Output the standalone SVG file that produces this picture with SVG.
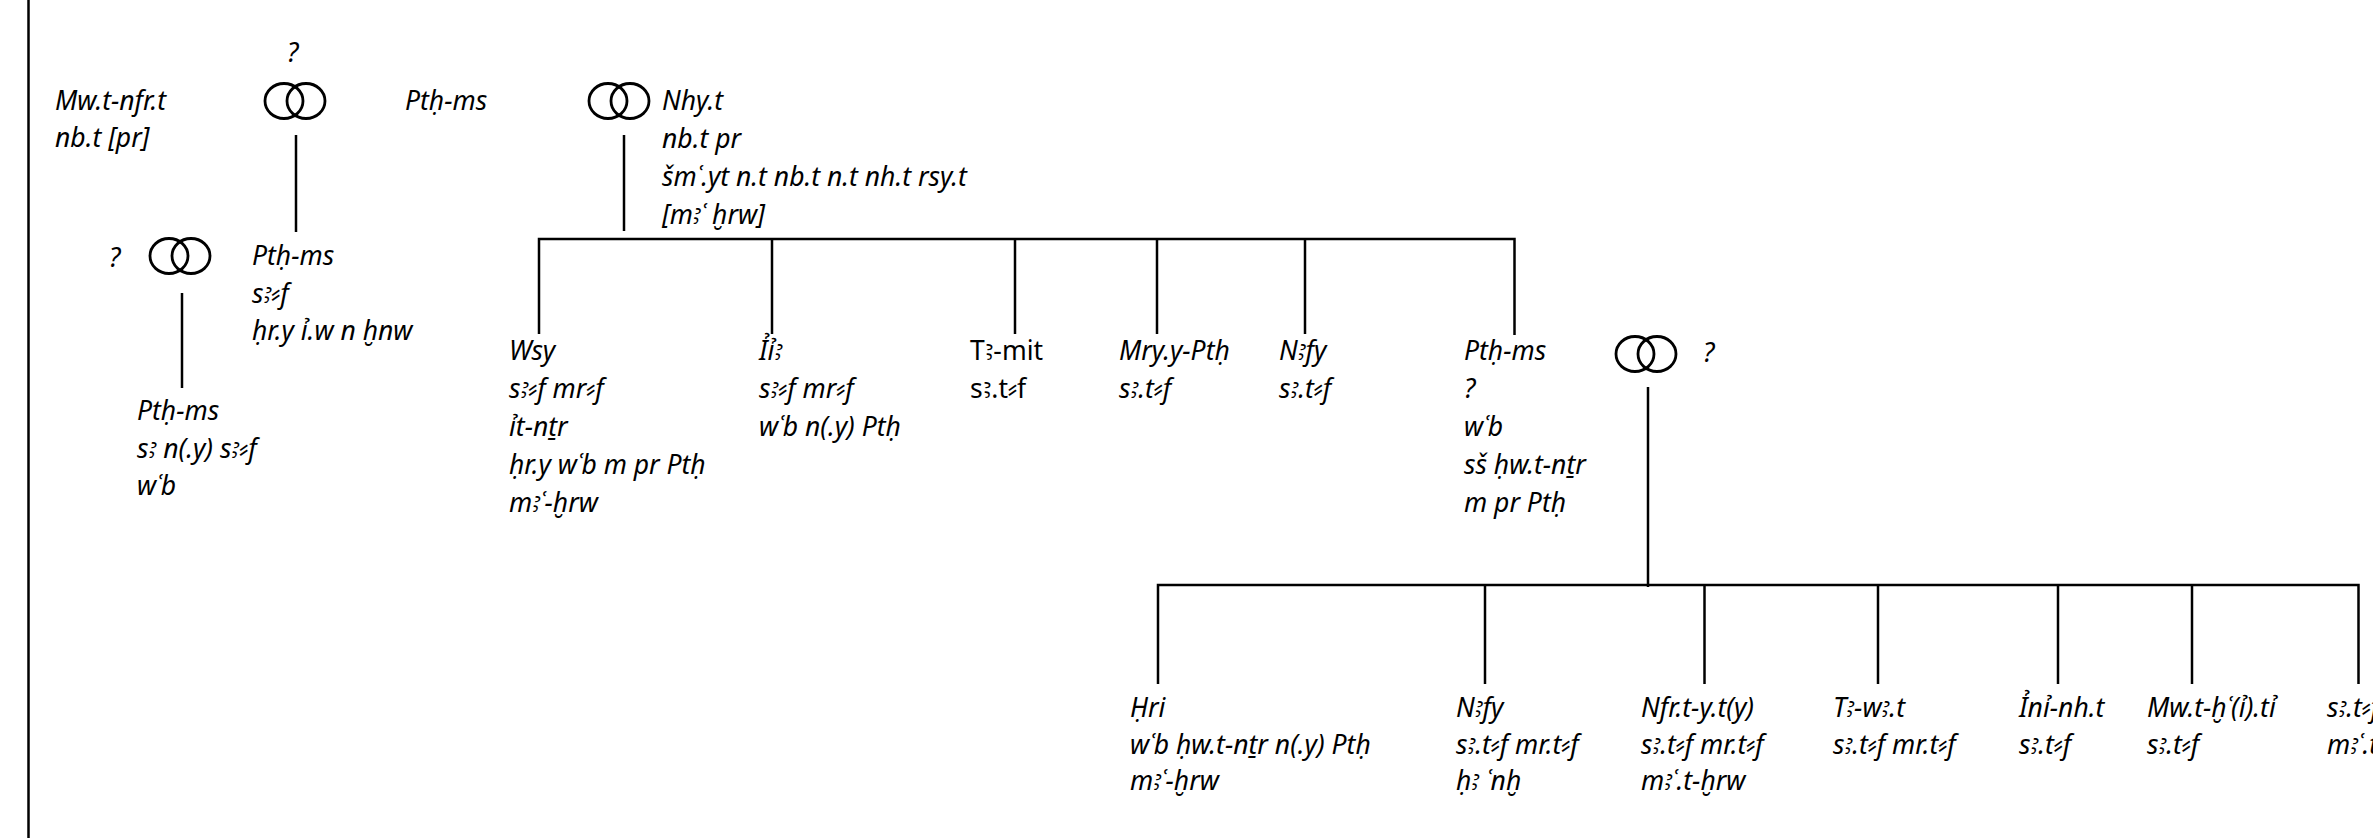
<svg xmlns="http://www.w3.org/2000/svg" xmlns:xlink="http://www.w3.org/1999/xlink" width="2373" height="838" viewBox="0 0 2373 838">
<style>
.t{font-family:"Noto Sans","DejaVu Sans",sans-serif;font-style:italic;font-size:26.5px;fill:#000}
.r{font-style:normal}
.ln{stroke:#000;stroke-width:2.5;fill:none}
.rg{stroke:#000;stroke-width:2.8;fill:none}
</style>
<defs>
<g id="ring"><ellipse class="rg" cx="-11" cy="0" rx="19" ry="17.5"/><ellipse class="rg" cx="11" cy="0" rx="19" ry="17.5"/></g>
</defs>
<rect x="0" y="0" width="2373" height="838" fill="#fff"/>
<g id="connectors">
<line class="ln" x1="28.5" y1="0" x2="28.5" y2="838" stroke-width="2"/>
<line class="ln" x1="296" y1="135" x2="296" y2="232"/>
<line class="ln" x1="182" y1="293" x2="182" y2="388"/>
<line class="ln" x1="624" y1="135" x2="624" y2="231"/>
<polyline class="ln" points="539,334 539,239 1514.5,239 1514.5,335"/>
<line class="ln" x1="772" y1="239" x2="772" y2="334"/>
<line class="ln" x1="1015" y1="239" x2="1015" y2="334"/>
<line class="ln" x1="1157" y1="239" x2="1157" y2="334"/>
<line class="ln" x1="1305" y1="239" x2="1305" y2="334" stroke-width="2"/>
<line class="ln" x1="1648" y1="387" x2="1648" y2="587"/>
<polyline class="ln" points="1158,684 1158,585 2358.5,585 2358.5,684"/>
<line class="ln" x1="1485" y1="585" x2="1485" y2="684"/>
<line class="ln" x1="1704.5" y1="585" x2="1704.5" y2="684"/>
<line class="ln" x1="1878" y1="585" x2="1878" y2="684"/>
<line class="ln" x1="2058" y1="585" x2="2058" y2="684"/>
<line class="ln" x1="2192" y1="585" x2="2192" y2="684"/>
</g>
<g id="n-mwtnfrt"><text class="t" x="55" y="110">Mw.t-nfr.t<tspan x="55" dy="37">nb.t [pr]</tspan></text></g>
<g id="m-ring1"><text class="t" x="287" y="62">?</text><use xlink:href="#ring" x="295" y="101"/></g>
<g id="n-ptahmes1"><text class="t" x="405" y="110">Ptḥ-ms</text></g>
<g id="m-ring3"><use xlink:href="#ring" x="619" y="101"/></g>
<g id="n-nhyt"><text class="t" x="662" y="110">Nhy.t<tspan x="662" dy="38">nb.t pr</tspan><tspan x="662" dy="38">šmʿ.yt n.t nb.t n.t nh.t rsy.t</tspan><tspan x="662" dy="38">[mꜣʿ ḫrw]</tspan></text></g>
<g id="m-ring2"><text class="t" x="109" y="267">?</text><use xlink:href="#ring" x="180" y="256"/></g>
<g id="n-ptahmes2"><text class="t" x="252" y="265">Ptḥ-ms<tspan x="252" dy="37.5">sꜣ⸗f</tspan><tspan x="252" dy="37.5">ḥr.y ỉ.w n ḫnw</tspan></text></g>
<g id="n-ptahmes3"><text class="t" x="137" y="420">Ptḥ-ms<tspan x="137" dy="37.5">sꜣ n(.y) sꜣ⸗f</tspan><tspan x="137" dy="37.5">wʿb</tspan></text></g>
<g id="n-wsy"><text class="t" x="509" y="360">Wsy<tspan x="509" dy="38">sꜣ⸗f mr⸗f</tspan><tspan x="509" dy="38">ỉt-nṯr</tspan><tspan x="509" dy="38">ḥr.y wʿb m pr Ptḥ</tspan><tspan x="509" dy="38">mꜣʿ-ḫrw</tspan></text></g>
<g id="n-iia"><text class="t" x="759" y="360">Ỉỉꜣ<tspan x="759" dy="38">sꜣ⸗f mr⸗f</tspan><tspan x="759" dy="38">wʿb n(.y) Ptḥ</tspan></text></g>
<g id="n-tamit"><text class="t r" x="970" y="360">Tꜣ-mit<tspan x="970" dy="38">sꜣ.t⸗f</tspan></text></g>
<g id="n-meryptah"><text class="t" x="1119" y="360">Mry.y-Ptḥ<tspan x="1119" dy="38">sꜣ.t⸗f</tspan></text></g>
<g id="n-nafy1"><text class="t" x="1279" y="360">Nꜣfy<tspan x="1279" dy="38">sꜣ.t⸗f</tspan></text></g>
<g id="n-ptahmes4"><text class="t" x="1464" y="360">Ptḥ-ms<tspan x="1464" dy="38">?</tspan><tspan x="1464" dy="38">wʿb</tspan><tspan x="1464" dy="38">sš ḥw.t-nṯr</tspan><tspan x="1464" dy="38">m pr Ptḥ</tspan></text></g>
<g id="m-ring4"><use xlink:href="#ring" x="1646" y="354"/><text class="t" x="1703" y="362">?</text></g>
<g id="n-hri"><text class="t" x="1130" y="717">Ḥri<tspan x="1130" dy="36.5">wʿb ḥw.t-nṯr n(.y) Ptḥ</tspan><tspan x="1130" dy="36.5">mꜣʿ-ḫrw</tspan></text></g>
<g id="n-nafy2"><text class="t" x="1456" y="717">Nꜣfy<tspan x="1456" dy="36.5">sꜣ.t⸗f mr.t⸗f</tspan><tspan x="1456" dy="36.5">ḥꜣ ʿnḫ</tspan></text></g>
<g id="n-nefertiti"><text class="t" x="1641" y="717">Nfr.t-y.t(y)<tspan x="1641" dy="36.5">sꜣ.t⸗f mr.t⸗f</tspan><tspan x="1641" dy="36.5">mꜣʿ.t-ḫrw</tspan></text></g>
<g id="n-tawat"><text class="t" x="1833" y="717">Tꜣ-wꜣ.t<tspan x="1833" dy="36.5">sꜣ.t⸗f mr.t⸗f</tspan></text></g>
<g id="n-ininht"><text class="t" x="2019" y="717">Ỉnỉ-nh.t<tspan x="2019" dy="36.5">sꜣ.t⸗f</tspan></text></g>
<g id="n-mwtkhati"><text class="t" x="2147" y="717">Mw.t-ḫʿ(ỉ).tỉ<tspan x="2147" dy="36.5">sꜣ.t⸗f</tspan></text></g>
<g id="n-last"><text class="t" x="2327" y="717">sꜣ.t⸗f<tspan x="2327" dy="36.5">mꜣʿ.t-ḫrw</tspan></text></g>
</svg>
